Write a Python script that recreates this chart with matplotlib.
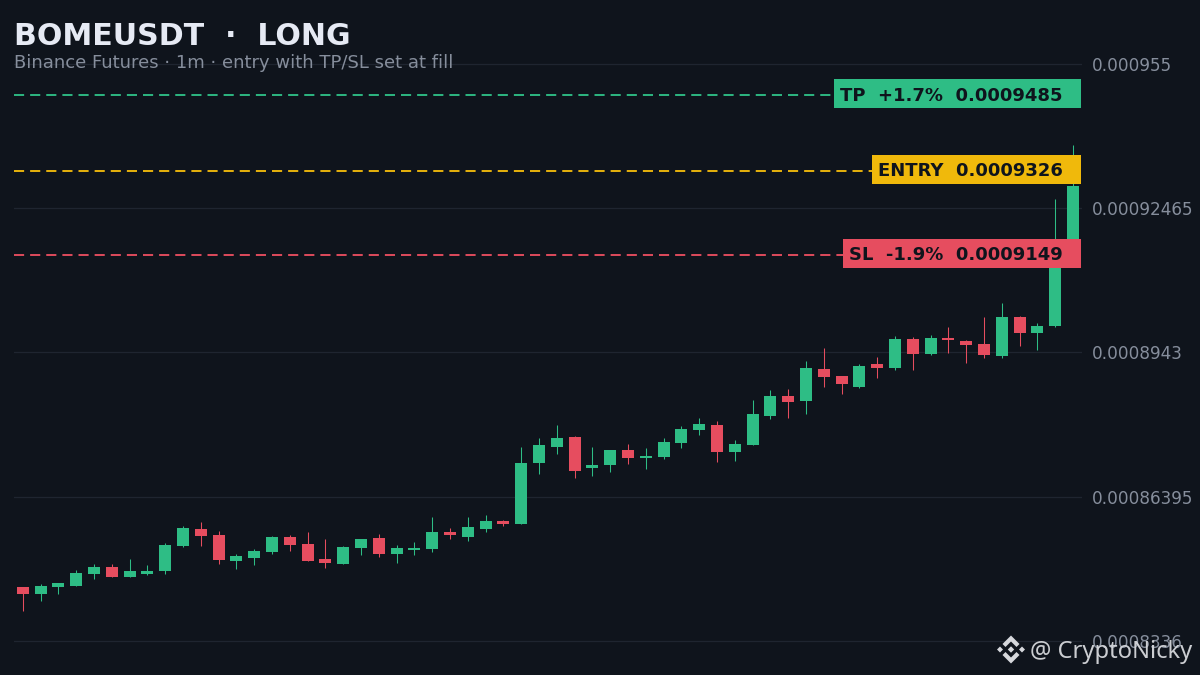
import matplotlib
matplotlib.use("Agg")
import matplotlib.pyplot as plt
from matplotlib.patches import Rectangle, Polygon
from matplotlib.transforms import IdentityTransform

# prices in units of 1e-6
opens = [844.99, 843.51, 844.99, 845.20, 847.72, 849.20, 847.09, 847.72, 848.36, 853.62,
         857.19, 855.93, 850.46, 851.09, 852.35, 855.51, 854.04, 850.88, 849.83, 853.20,
         855.30, 851.93, 852.77, 852.99, 856.56, 855.51, 857.19, 858.88, 858.25, 871.09,
         874.45, 876.56, 870.03, 870.66, 873.82, 872.14, 872.35, 875.30, 878.03, 879.08,
         873.40, 874.87, 880.98, 885.19, 884.14, 890.87, 889.40, 887.08, 891.92, 891.08,
         897.18, 894.03, 897.39, 896.76, 896.13, 893.61, 901.81, 898.45, 899.92, 915.92]
highs = [844.99, 845.62, 845.83, 848.57, 849.83, 849.83, 850.88, 849.62, 854.25, 857.83,
         858.67, 856.77, 851.93, 852.99, 855.72, 855.93, 856.56, 855.09, 853.62, 855.09,
         856.14, 853.83, 854.46, 859.72, 857.41, 859.72, 860.14, 859.09, 874.45, 876.35,
         879.08, 876.77, 874.45, 873.82, 875.08, 874.24, 876.35, 878.87, 880.56, 879.93,
         875.93, 884.35, 886.45, 886.66, 892.55, 895.29, 889.40, 891.92, 893.40, 897.82,
         897.61, 898.03, 899.71, 896.97, 901.81, 904.76, 902.02, 900.55, 926.65, 938.02]
lows = [839.94, 842.04, 843.51, 845.20, 846.67, 847.09, 847.09, 847.51, 847.72, 853.41,
        853.62, 849.83, 848.78, 849.62, 851.93, 852.56, 850.46, 848.99, 849.83, 851.72,
        851.30, 850.04, 851.72, 852.35, 855.09, 854.67, 856.56, 857.83, 858.25, 868.77,
        872.98, 867.93, 868.35, 869.19, 870.87, 869.82, 871.93, 874.24, 876.98, 871.30,
        871.51, 874.87, 880.35, 880.56, 881.40, 887.08, 885.61, 886.87, 888.98, 890.66,
        890.66, 893.82, 894.24, 892.13, 893.19, 893.19, 895.71, 894.87, 899.71, 915.92]
closes = [843.51, 845.20, 845.83, 847.93, 849.20, 847.09, 848.36, 848.36, 853.83, 857.41,
          855.72, 850.67, 851.51, 852.56, 855.51, 853.83, 850.46, 850.04, 853.41, 855.09,
          851.93, 853.20, 853.20, 856.56, 855.93, 857.62, 858.88, 858.25, 871.09, 874.87,
          876.35, 869.40, 870.66, 873.82, 872.14, 872.56, 875.51, 878.24, 879.29, 873.40,
          875.08, 881.40, 885.19, 883.92, 891.08, 889.19, 887.71, 891.50, 891.08, 897.18,
          894.03, 897.39, 896.97, 895.92, 893.82, 901.81, 898.45, 899.92, 915.92, 929.39]

tick_values = [955.0, 924.65, 894.3, 863.95, 833.6]
tick_labels = ["0.000955", "0.00092465", "0.0008943", "0.00086395", "0.0008336"]

level_names = ["TP  +1.7%  0.0009485", "ENTRY  0.0009326", "SL  -1.9%  0.0009149"]
level_values = [948.5, 932.6, 914.9]

BG = "#0f141c"
GREEN = "#2ebd85"
RED = "#e64d5f"
YELLOW = "#f0b90b"
GRID = "#1f2530"
MUTED = "#868e9c"
level_colors = [GREEN, YELLOW, RED]

fig = plt.figure(figsize=(12, 6.75), dpi=100, facecolor=BG)
ax = fig.add_axes([13.85 / 1200, 0, 1068 / 1200, 1], facecolor=BG)
ax.set_xlim(-0.5, 59.5)
ax.set_ylim(826.42, 968.49)
for s in ax.spines.values():
    s.set_visible(False)
ax.set_xticks([])
ax.yaxis.tick_right()
ax.set_yticks(tick_values)
ax.set_yticklabels(tick_labels, fontsize=12.2, color=MUTED)
ax.tick_params(axis="y", length=0, pad=7.2)
ax.grid(axis="y", color=GRID, lw=0.9, zorder=0)
ax.set_axisbelow(True)

for i, (o, h, l, c) in enumerate(zip(opens, highs, lows, closes)):
    col = GREEN if c >= o else RED
    ax.vlines(i, l, h, color=col, lw=0.75, zorder=2)
    ax.bar(i, abs(c - o), bottom=min(o, c), width=0.67, color=col, linewidth=0, zorder=3)

for v, col in zip(level_values, level_colors):
    ax.axhline(v, xmax=0.98, color=col, lw=1.35, linestyle=(0, (5.4, 3.2)), zorder=4)

fig.canvas.draw()
renderer = fig.canvas.get_renderer()
H = 675
for name, v, col in zip(level_names, level_values, level_colors):
    y = ax.transData.transform((0, v))[1] + 1.4
    t = ax.text(1063, y, name, transform=IdentityTransform(), ha="right", va="center_baseline",
                fontsize=13, fontweight="bold", color="#0f141c", zorder=7, clip_on=False)
    ext = t.get_window_extent(renderer)
    ax.add_patch(Rectangle((ext.x0 - 6.5, y - 14.5), 1081 - ext.x0 + 6.5, 29, transform=IdentityTransform(),
                           facecolor=col, edgecolor="none", zorder=6, clip_on=False))

fig.text(14 / 1200, 1 - 33.5 / H, "BOMEUSDT  ·  LONG", fontsize=21.6, fontweight="bold",
         color="#e6eaf4", ha="left", va="center_baseline")
fig.text(14 / 1200, 1 - 60.5 / H, "Binance Futures · 1m · entry with TP/SL set at fill", fontsize=12.95,
         color=MUTED, ha="left", va="center_baseline")

# watermark
WM = "#d6d8dc"
fig.text(1030 / 1200, 1 - 649 / H, "@ CryptoNicky", fontsize=17.1, color=WM, family="Noto Sans",
         ha="left", va="center_baseline", alpha=0.95, zorder=10)
cx, cy = 1011, 649.5
logo_parts = [
    [(-3.2, 0), (0, -3.2), (3.2, 0), (0, 3.2)],
    [(-14, 0), (-11, -3), (-8, 0), (-11, 3)],
    [(14, 0), (11, -3), (8, 0), (11, 3)],
    [(0, -14), (8.5, -5.5), (5.5, -2.5), (0, -8), (-5.5, -2.5), (-8.5, -5.5)],
    [(0, 14), (8.5, 5.5), (5.5, 2.5), (0, 8), (-5.5, 2.5), (-8.5, 5.5)],
]
for part in logo_parts:
    pts = [(cx + px, H - (cy + py)) for px, py in part]
    fig.add_artist(Polygon(pts, closed=True, transform=IdentityTransform(),
                           facecolor=WM, edgecolor="none", zorder=10))

fig.savefig("out.png", dpi=100, facecolor=BG)
